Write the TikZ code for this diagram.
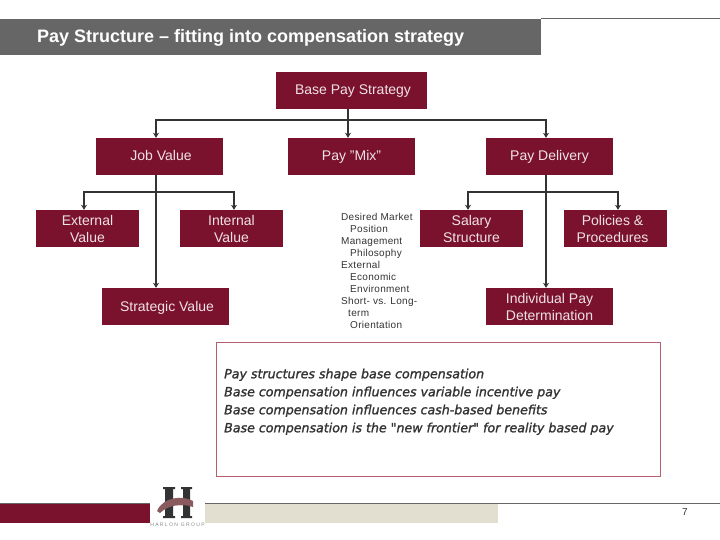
\documentclass[tikz,border=0pt]{standalone}
\usepackage{fontspec}
\usetikzlibrary{arrows.meta}
\setmainfont{Liberation Sans}
\newfontfamily\notefont[ItalicFeatures={FakeBold=1.4}]{DejaVu Sans}
\definecolor{wine}{HTML}{7A122D}
\definecolor{slate}{HTML}{666666}
\definecolor{ink}{HTML}{333333}
\definecolor{sand}{HTML}{E2DFD0}
\definecolor{rosered}{HTML}{B5606F}
\definecolor{swoosh}{HTML}{8A5A5E}
\begin{document}
\begin{tikzpicture}[x=1pt, y=-1pt, line join=miter, >={Stealth[length=5pt,width=6pt]},
	paybox/.style={fill=wine, text=white!88!wine, inner sep=0pt, align=center, minimum height=37pt, font=\fontsize{14}{17}\selectfont},
	oneline/.style={paybox, text height=10pt, text depth=1pt},
	link/.style={draw=ink, line width=1.1pt}]
	\useasboundingbox (0,0) rectangle (720,540);
	% header and footer
	\fill[slate] (0,19) rectangle (541,55);
	\draw[slate, line width=.8pt] (541,18.5)--(720,18.5);
	\node[anchor=base west, inner sep=0pt, text=white, font=\fontsize{18}{20}\selectfont\bfseries] (title) at (37,43) {Pay Structure – fitting into compensation strategy};
	\fill[wine] (0,503) rectangle (150,523);
	\fill[sand] (205,503) rectangle (498,523);
	\draw[slate, line width=.8pt] (0,503)--(150,503) (205,503)--(720,503);
	\node[anchor=base, inner sep=0pt, text=ink, font=\fontsize{10}{12}\selectfont] (page) at (685,515) {7};
	% logo
	\fill[ink] (163,487) rectangle (175,489) (181,487) rectangle (192,489);
	\fill[ink] (165,488) rectangle (173,517) (183,488) rectangle (190,517) (173,500) rectangle (183,505);
	\fill[ink] (163,516) rectangle (175,518) (181,516) rectangle (192,518);
	\fill[swoosh] (157,511) .. controls (163,497) and (182,495) .. (193,501) -- (193,507) .. controls (182,503) and (168,505) .. (160,513) -- cycle;
	\node[inner sep=0pt, text=ink!60, font=\fontsize{5}{6}\selectfont] (logotext) at (177.5,525) {H A R L O N \ G R O U P};
	% boxes
	\node[oneline, minimum width=151pt] (base) at (351.5,90.5) {\kern3pt Base Pay Strategy};
	\foreach \p/\x/\t in {job/159.5/\kern3pt Job Value, mix/351.5/Pay "Mix", delivery/549.5/Pay Delivery}
	\node[oneline, minimum width=127pt] (\p) at (\x,156.5) {\t};
	\foreach \p/\x/\t in {external/87.5/External\\Value, internal/231.5/Internal\\Value, salary/471.5/Salary\\Structure, policies/615.5/Policies \&\kern6pt\\Procedures\kern6pt}
	\node[paybox, minimum width=103pt] (\p) at (\x,228.5) {\t};
	\node[oneline, minimum width=127pt] (strategic) at (165.5,306.5) {\kern3pt Strategic Value};
	\node[paybox, minimum width=127pt] (individual) at (549.5,306.5) {Individual Pay\\Determination};
	\path (348,120) coordinate (T)
		(156,192) coordinate (J)
		(546,192) coordinate (D);
	% connectors
	\draw[link, ->] (base.south -| T)--(mix.north -| T);
	\draw[link, ->] (T)-|(job.north -| J);
	\draw[link, ->] (T)-|(delivery.north -| D);
	\draw[link, ->] (job.south -| J)--(strategic.north -| J);
	\draw[link, ->] (J)-|(external.north -| 84,0);
	\draw[link, ->] (J)-|(internal.north -| 234,0);
	\draw[link, ->] (delivery.south -| D)--(individual.north -| D);
	\draw[link, ->] (D)-|(salary.north -| 468,0);
	\draw[link, ->] (D)-|(policies.north -| 618,0);
	% texts
	\node[anchor=north west, inner sep=0pt, align=left, text=ink, font=\fontsize{10}{12}\selectfont\addfontfeatures{LetterSpace=3}] (mixlist) at (341,213) {Desired Market\\
	\hspace{9pt}Position\\Management\\\hspace{9pt}Philosophy\\External\\\hspace{9pt}Economic\\\hspace{9pt}Environment\\Short- vs. Long-\\\hspace{7pt}term\\\hspace{9pt}Orientation};
	\draw[rosered, line width=.9pt, fill=white] (216.5,342.5) rectangle (660.5,476.5);
	\node[anchor=north west, inner sep=0pt, align=left, text=ink, font=\notefont\fontsize{12.6}{18}\selectfont\itshape] (notes) at (224,368.5) {Pay structures shape base compensation\\Base compensation influences variable incentive pay\\Base compensation influences cash-based benefits\\Base compensation is the "new frontier" for reality based pay};
\end{tikzpicture}
\end{document}
